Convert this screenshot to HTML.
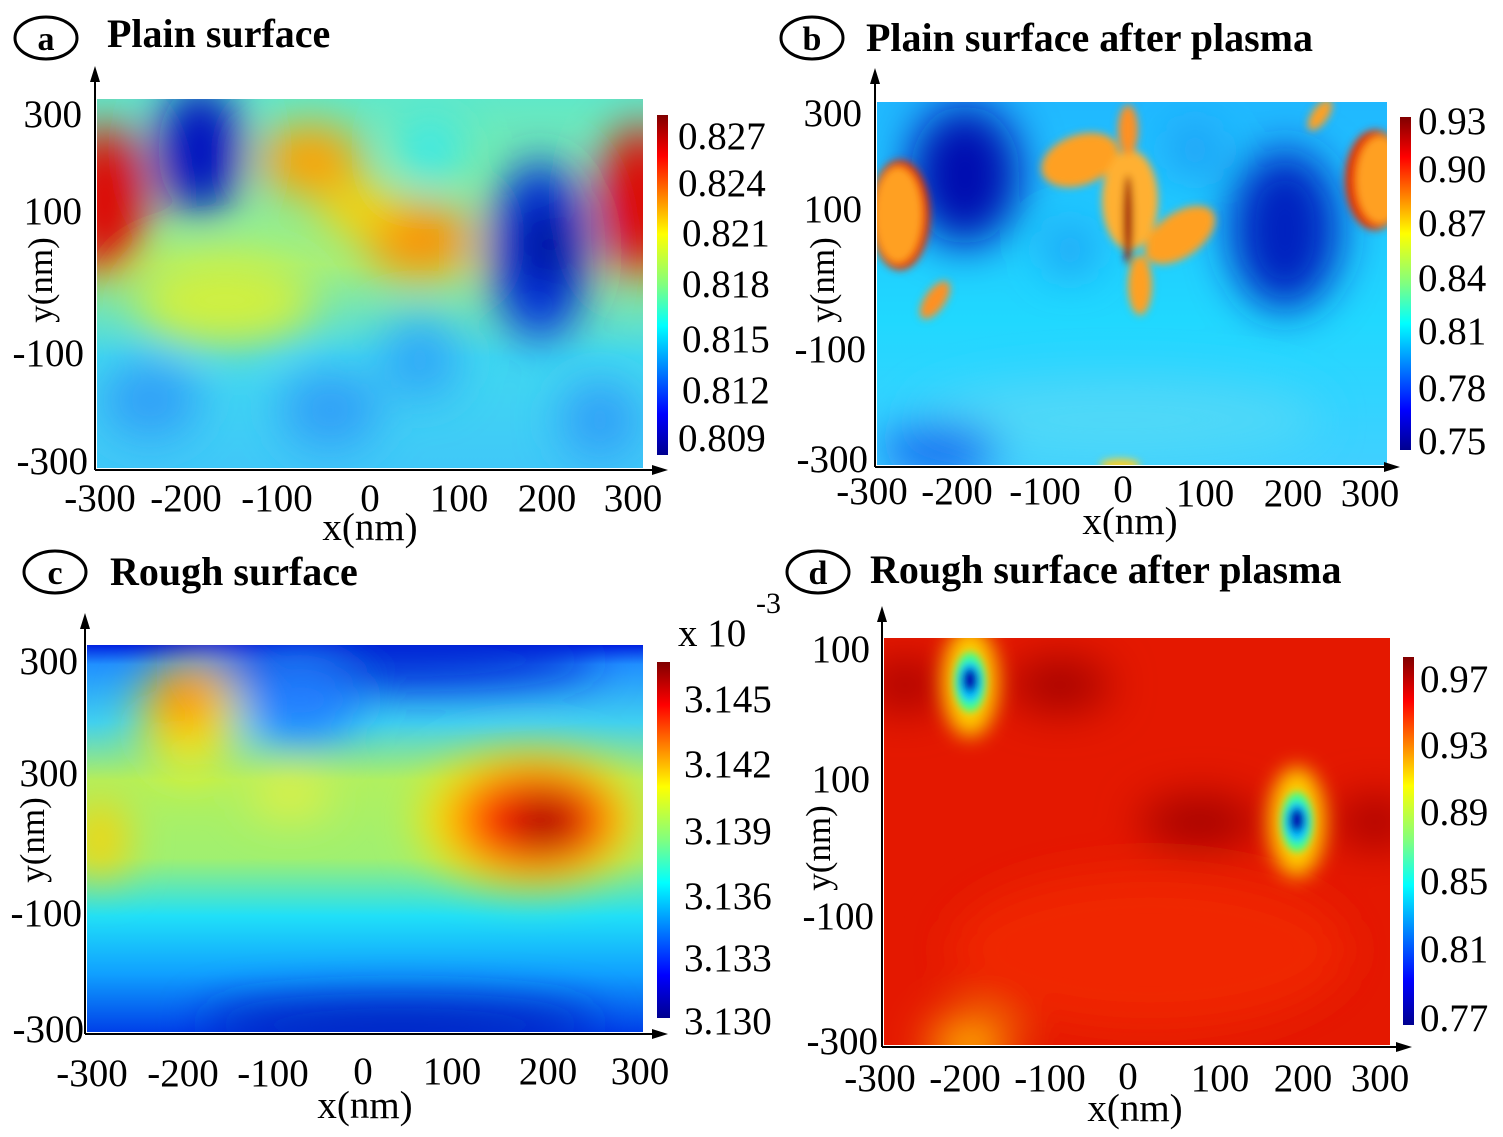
<!DOCTYPE html>
<html><head><meta charset="utf-8"><style>
html,body{margin:0;padding:0;background:#fff;}
svg{display:block;}
text{font-family:"Liberation Serif",serif;fill:#000;}
.t{font-size:39px;}
.yl{font-size:35px;}
.h{font-size:40px;font-weight:bold;}
</style></head><body>
<svg width="1503" height="1137" viewBox="0 0 1503 1137" xmlns="http://www.w3.org/2000/svg">
<defs>
<filter id="b1" x="-50%" y="-50%" width="200%" height="200%"><feGaussianBlur stdDeviation="22"/></filter>
<filter id="b2" x="-50%" y="-50%" width="200%" height="200%"><feGaussianBlur stdDeviation="10"/></filter>
<filter id="b3" x="-50%" y="-50%" width="200%" height="200%"><feGaussianBlur stdDeviation="4"/></filter>
<linearGradient id="jet" x1="0" y1="0" x2="0" y2="1">
<stop offset="0" stop-color="#800000"/><stop offset="0.12" stop-color="#ff0000"/>
<stop offset="0.35" stop-color="#ffff00"/><stop offset="0.5" stop-color="#80ff80"/>
<stop offset="0.62" stop-color="#00ffff"/><stop offset="0.88" stop-color="#0000ff"/>
<stop offset="1" stop-color="#00008f"/></linearGradient>
<linearGradient id="ca" x1="0" y1="0" x2="0" y2="1">
<stop offset="0" stop-color="#60e8c8"/><stop offset="0.45" stop-color="#a0f080"/><stop offset="0.7" stop-color="#40d8f0"/><stop offset="1" stop-color="#40c8f8"/></linearGradient>
<linearGradient id="cb" x1="0" y1="0" x2="0" y2="1">
<stop offset="0" stop-color="#20b8ff"/><stop offset="0.6" stop-color="#20d8ff"/><stop offset="1" stop-color="#40d0ff"/></linearGradient>
<linearGradient id="cc" x1="0" y1="0" x2="0" y2="1">
<stop offset="0" stop-color="#0020e0"/><stop offset="0.05" stop-color="#2090ff"/><stop offset="0.2" stop-color="#40d0f0"/>
<stop offset="0.35" stop-color="#b0f060"/><stop offset="0.55" stop-color="#a0f070"/><stop offset="0.7" stop-color="#20e0f8"/>
<stop offset="0.85" stop-color="#10a0ff"/><stop offset="1" stop-color="#0040e8"/></linearGradient>
<clipPath id="pa"><rect x="97" y="99" width="546" height="369"/></clipPath>
<clipPath id="pb"><rect x="877" y="102" width="510" height="363"/></clipPath>
<clipPath id="pc"><rect x="87" y="645" width="556" height="387"/></clipPath>
<clipPath id="pd"><rect x="884" y="638" width="506" height="407"/></clipPath>
</defs>

<!-- Panel a -->
<g clip-path="url(#pa)">
<rect x="97" y="99" width="546" height="369" fill="url(#ca)"/>
<g filter="url(#b1)">
<ellipse cx="225" cy="300" rx="90" ry="45" fill="#d0f040"/>
<ellipse cx="150" cy="400" rx="50" ry="40" fill="#30a0f8"/>
<ellipse cx="330" cy="410" rx="50" ry="40" fill="#30a0f8"/>
<ellipse cx="420" cy="360" rx="40" ry="40" fill="#30a8f8"/>
<ellipse cx="600" cy="420" rx="40" ry="40" fill="#30a0f8"/>
<ellipse cx="430" cy="150" rx="30" ry="30" fill="#30e8f0"/>
<ellipse cx="310" cy="160" rx="50" ry="35" fill="#ffa000"/>
<ellipse cx="420" cy="240" rx="55" ry="35" fill="#ff9000"/>
<ellipse cx="360" cy="210" rx="40" ry="25" fill="#ffd000"/>
<ellipse cx="200" cy="150" rx="42" ry="65" fill="#0010c0"/>
<ellipse cx="540" cy="250" rx="50" ry="90" fill="#0030e0"/>
<ellipse cx="545" cy="245" rx="25" ry="45" fill="#000090"/>
<ellipse cx="105" cy="200" rx="40" ry="75" fill="#e00000"/>
<ellipse cx="640" cy="200" rx="40" ry="75" fill="#e00000"/>
</g>
</g>
<rect x="657" y="115" width="11" height="340" fill="url(#jet)"/>
<g class="t">
<text x="678" y="149">0.827</text><text x="678" y="196">0.824</text><text x="682" y="246">0.821</text>
<text x="682" y="297">0.818</text><text x="682" y="352">0.815</text><text x="682" y="403">0.812</text><text x="678" y="451">0.809</text>
<text x="82" y="127" text-anchor="end">300</text><text x="82" y="224" text-anchor="end">100</text>
<text x="84" y="366" text-anchor="end">-100</text><text x="88" y="474" text-anchor="end">-300</text>
<g text-anchor="middle"><text x="100" y="511">-300</text><text x="186" y="511">-200</text><text x="277" y="511">-100</text>
<text x="370" y="511">0</text><text x="459" y="511">100</text><text x="547" y="511">200</text><text x="633" y="511">300</text>
<text x="370" y="540">x(nm)</text></g>
</g>
<text class="yl" transform="translate(52,280) rotate(-90)" text-anchor="middle">y(nm)</text>
<g stroke="#000" stroke-width="2"><line x1="95" y1="470" x2="95" y2="78"/><line x1="95" y1="470" x2="655" y2="470"/></g>
<path d="M90,82 L95,66 L100,82Z M652,465 L668,470 L652,475Z" fill="#000"/>
<ellipse cx="46" cy="38" rx="31" ry="21" fill="none" stroke="#000" stroke-width="3"/>
<text class="h" x="46" y="50" text-anchor="middle" style="font-size:34px">a</text>
<text class="h" x="107" y="47">Plain surface</text>

<!-- Panel b -->
<g clip-path="url(#pb)">
<rect x="877" y="102" width="510" height="363" fill="url(#cb)"/>
<g filter="url(#b1)">
<ellipse cx="1120" cy="420" rx="200" ry="40" fill="#50d8f8"/>
<ellipse cx="965" cy="175" rx="55" ry="70" fill="#0010b0"/>
<ellipse cx="1285" cy="230" rx="55" ry="80" fill="#0020c0"/>
<ellipse cx="940" cy="450" rx="60" ry="25" fill="#1060f0"/>
<ellipse cx="1070" cy="250" rx="22" ry="22" fill="#2090f0"/>
<ellipse cx="1195" cy="150" rx="22" ry="22" fill="#2090f0"/>
</g>
<g filter="url(#b3)">
<ellipse cx="900" cy="215" rx="30" ry="55" fill="#e83000"/>
<ellipse cx="898" cy="215" rx="24" ry="48" fill="#ffa020"/>
<ellipse cx="1375" cy="180" rx="30" ry="50" fill="#e83000"/>
<ellipse cx="1380" cy="180" rx="24" ry="44" fill="#ffa020"/>
<ellipse cx="1080" cy="160" rx="40" ry="25" fill="#ffa020" transform="rotate(-20 1080 160)"/>
<ellipse cx="1180" cy="235" rx="40" ry="22" fill="#ffa020" transform="rotate(-35 1180 235)"/>
<ellipse cx="1130" cy="200" rx="28" ry="50" fill="#ffb030"/>
<ellipse cx="1140" cy="285" rx="12" ry="30" fill="#ffa020"/>
<ellipse cx="1128" cy="130" rx="10" ry="25" fill="#ff9020"/>
<ellipse cx="1128" cy="220" rx="5" ry="45" fill="#a00000"/>
<ellipse cx="935" cy="300" rx="10" ry="22" fill="#ff9020" transform="rotate(35 935 300)"/>
<ellipse cx="1320" cy="115" rx="8" ry="18" fill="#ffa020" transform="rotate(35 1320 115)"/>
<ellipse cx="1120" cy="465" rx="20" ry="6" fill="#ffd020"/>
</g>
</g>
<rect x="1400" y="117" width="11" height="333" fill="url(#jet)"/>
<g class="t">
<text x="1418" y="134">0.93</text><text x="1418" y="182">0.90</text><text x="1418" y="236">0.87</text>
<text x="1418" y="291">0.84</text><text x="1418" y="344">0.81</text><text x="1418" y="401">0.78</text><text x="1418" y="454">0.75</text>
<text x="862" y="126" text-anchor="end">300</text><text x="862" y="222" text-anchor="end">100</text>
<text x="866" y="362" text-anchor="end">-100</text><text x="868" y="472" text-anchor="end">-300</text>
<g text-anchor="middle"><text x="872" y="504">-300</text><text x="957" y="504">-200</text><text x="1045" y="504">-100</text>
<text x="1123" y="502">0</text><text x="1205" y="506">100</text><text x="1293" y="506">200</text><text x="1370" y="506">300</text>
<text x="1130" y="534">x(nm)</text></g>
</g>
<text class="yl" transform="translate(834,280) rotate(-90)" text-anchor="middle">y(nm)</text>
<g stroke="#000" stroke-width="2"><line x1="875" y1="467" x2="875" y2="80"/><line x1="875" y1="467" x2="1385" y2="467"/></g>
<path d="M870,84 L875,68 L880,84Z M1384,462 L1400,467 L1384,472Z" fill="#000"/>
<ellipse cx="812" cy="38" rx="31" ry="21" fill="none" stroke="#000" stroke-width="3"/>
<text class="h" x="812" y="50" text-anchor="middle" style="font-size:34px">b</text>
<text class="h" x="866" y="51">Plain surface after plasma</text>

<!-- Panel c -->
<g clip-path="url(#pc)">
<rect x="87" y="645" width="556" height="387" fill="url(#cc)"/>
<g filter="url(#b1)">
<ellipse cx="400" cy="660" rx="200" ry="25" fill="#0020d0"/>
<ellipse cx="300" cy="700" rx="60" ry="40" fill="#2080ff"/>
<ellipse cx="400" cy="1025" rx="200" ry="25" fill="#0020c0"/>
<ellipse cx="190" cy="720" rx="50" ry="60" fill="#e8f020"/>
<ellipse cx="185" cy="700" rx="35" ry="35" fill="#ff9000"/>
<ellipse cx="530" cy="820" rx="110" ry="65" fill="#ffe000"/>
<ellipse cx="535" cy="820" rx="80" ry="50" fill="#ff2000"/>
<ellipse cx="545" cy="822" rx="35" ry="25" fill="#900000"/>
<ellipse cx="100" cy="840" rx="25" ry="40" fill="#ffd000"/>
<ellipse cx="290" cy="795" rx="40" ry="20" fill="#e8f040"/>
</g>
</g>
<rect x="657" y="662" width="13" height="356" fill="url(#jet)"/>
<g class="t">
<text x="678" y="646">x 10</text><text x="756" y="613" style="font-size:30px">-3</text>
<text x="684" y="712">3.145</text><text x="684" y="777">3.142</text><text x="684" y="844">3.139</text>
<text x="684" y="909">3.136</text><text x="684" y="971">3.133</text><text x="684" y="1034">3.130</text>
<text x="78" y="674" text-anchor="end">300</text><text x="78" y="786" text-anchor="end">300</text>
<text x="82" y="926" text-anchor="end">-100</text><text x="84" y="1042" text-anchor="end">-300</text>
<g text-anchor="middle"><text x="92" y="1086">-300</text><text x="183" y="1086">-200</text><text x="273" y="1086">-100</text>
<text x="363" y="1084">0</text><text x="452" y="1084">100</text><text x="548" y="1084">200</text><text x="640" y="1084">300</text>
<text x="365" y="1118">x(nm)</text></g>
</g>
<text class="yl" transform="translate(44,840) rotate(-90)" text-anchor="middle">y(nm)</text>
<g stroke="#000" stroke-width="2"><line x1="85" y1="1034" x2="85" y2="625"/><line x1="85" y1="1034" x2="655" y2="1034"/></g>
<path d="M80,629 L85,613 L90,629Z M652,1029 L668,1034 L652,1039Z" fill="#000"/>
<ellipse cx="55" cy="572" rx="31" ry="21" fill="none" stroke="#000" stroke-width="3"/>
<text class="h" x="55" y="584" text-anchor="middle" style="font-size:34px">c</text>
<text class="h" x="110" y="585">Rough surface</text>

<!-- Panel d -->
<g clip-path="url(#pd)">
<rect x="884" y="638" width="506" height="407" fill="#e41800"/>
<g filter="url(#b1)">
<ellipse cx="1060" cy="685" rx="50" ry="25" fill="#a00000"/>
<ellipse cx="905" cy="685" rx="40" ry="25" fill="#a80000"/>
<ellipse cx="1200" cy="822" rx="60" ry="25" fill="#a00000"/>
<ellipse cx="1375" cy="822" rx="40" ry="25" fill="#a80000"/>
<ellipse cx="970" cy="1045" rx="40" ry="30" fill="#ffb000"/>
<ellipse cx="1150" cy="950" rx="200" ry="80" fill="#f02800"/>
</g>
<g filter="url(#b2)">
<ellipse cx="970" cy="682" rx="28" ry="55" fill="#ffd000"/>
<ellipse cx="1297" cy="822" rx="28" ry="55" fill="#ffd000"/>
</g>
<g filter="url(#b3)">
<ellipse cx="970" cy="682" rx="16" ry="30" fill="#40ff90"/>
<ellipse cx="970" cy="682" rx="12" ry="20" fill="#00c0ff"/>
<ellipse cx="970" cy="680" rx="8" ry="12" fill="#0000b0"/>
<ellipse cx="1297" cy="822" rx="16" ry="30" fill="#40ff90"/>
<ellipse cx="1297" cy="822" rx="12" ry="20" fill="#00c0ff"/>
<ellipse cx="1297" cy="820" rx="8" ry="12" fill="#0000b0"/>
</g>
</g>
<rect x="1403" y="657" width="11" height="368" fill="url(#jet)"/>
<g class="t">
<text x="1420" y="692">0.97</text><text x="1420" y="758">0.93</text><text x="1420" y="825">0.89</text>
<text x="1420" y="894">0.85</text><text x="1420" y="962">0.81</text><text x="1420" y="1031">0.77</text>
<text x="870" y="662" text-anchor="end">100</text><text x="870" y="792" text-anchor="end">100</text>
<text x="874" y="929" text-anchor="end">-100</text><text x="878" y="1054" text-anchor="end">-300</text>
<g text-anchor="middle"><text x="880" y="1091">-300</text><text x="965" y="1091">-200</text><text x="1050" y="1091">-100</text>
<text x="1128" y="1089">0</text><text x="1220" y="1091">100</text><text x="1303" y="1091">200</text><text x="1380" y="1091">300</text>
<text x="1135" y="1121">x(nm)</text></g>
</g>
<text class="yl" transform="translate(830,848) rotate(-90)" text-anchor="middle">y(nm)</text>
<g stroke="#000" stroke-width="2"><line x1="882" y1="1047" x2="882" y2="618"/><line x1="882" y1="1047" x2="1398" y2="1047"/></g>
<path d="M877,622 L882,606 L887,622Z M1396,1042 L1412,1047 L1396,1052Z" fill="#000"/>
<ellipse cx="818" cy="572" rx="31" ry="21" fill="none" stroke="#000" stroke-width="3"/>
<text class="h" x="818" y="584" text-anchor="middle" style="font-size:34px">d</text>
<text class="h" x="870" y="583">Rough surface after plasma</text>
</svg>
</body></html>
